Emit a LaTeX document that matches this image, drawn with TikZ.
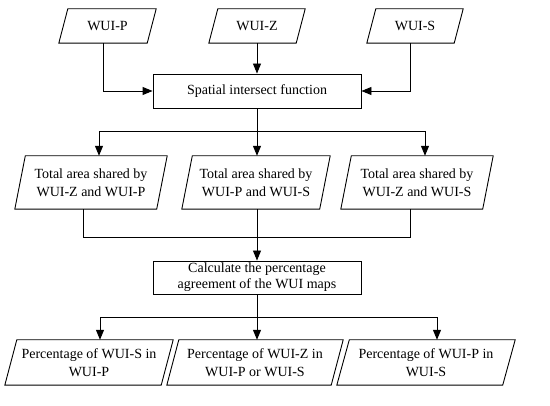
\documentclass[tikz,border=0pt]{standalone}
\usepackage{fontspec}
\setmainfont{Liberation Serif}
\usetikzlibrary{arrows.meta,calc}
\tikzset{
  base/.style={inner sep=0pt, align=center, font=\fontsize{14}{18}\selectfont},
  iobox/.style={base, rectangle},
  proc/.style={base, rectangle, draw, line width=0.9pt},
  outline/.style={line width=0.9pt, line join=miter},
  conn/.style={line width=0.9pt},
  arr/.style={conn, -{Triangle[length=10pt,width=8pt]}}
}
\newcommand{\drawpara}[2]{\draw[outline] ([xshift=#2]#1.north west) -- (#1.north east) -- ([xshift=-#2]#1.south east) -- (#1.south west) -- cycle;}
\begin{document}
\begin{tikzpicture}[x=1pt,y=-1pt]
\useasboundingbox (0,0) rectangle (550,406);
\node[iobox, minimum width=97pt, minimum height=34pt] (P) at (107.5,26) {WUI-P};
\node[iobox, minimum width=96pt, minimum height=34pt] (Z) at (257,26) {WUI-Z};
\node[iobox, minimum width=96pt, minimum height=34pt] (S) at (415,26) {WUI-S};
\drawpara{P}{9pt}
\drawpara{Z}{9pt}
\drawpara{S}{9pt}
\node[proc, minimum width=208pt, minimum height=34pt] (F) at (257,91) {Spatial intersect function};
\node[iobox, minimum width=152pt, minimum height=53pt] (A1) at (91,182.5) {Total area shared by\\WUI-Z and WUI-P};
\node[iobox, minimum width=148pt, minimum height=53pt] (A2) at (256,182.5) {Total area shared by\\WUI-P and WUI-S};
\node[iobox, minimum width=152pt, minimum height=53pt] (A3) at (417,182.5) {Total area shared by\\WUI-Z and WUI-S};
\drawpara{A1}{10.5pt}
\drawpara{A2}{10.5pt}
\drawpara{A3}{10.5pt}
\node[proc, minimum width=208pt, minimum height=33pt, font=\fontsize{14}{16}\selectfont] (C) at (257,277.5) {Calculate the percentage\\agreement of the WUI maps};
\node[iobox, minimum width=168pt, minimum height=45pt] (B1) at (89,362.5) {Percentage of WUI-S in\\WUI-P};
\node[iobox, minimum width=176pt, minimum height=45pt] (B2) at (255,362.5) {Percentage of WUI-Z in\\WUI-P or WUI-S};
\node[iobox, minimum width=178pt, minimum height=45pt] (B3) at (426,362.5) {Percentage of WUI-P in\\WUI-S};
\drawpara{B1}{12pt}
\drawpara{B2}{12pt}
\drawpara{B3}{12.5pt}
\coordinate (j1) at (257,131);
\coordinate (j2) at (257,237);
\coordinate (j3) at (257,317);
% top inputs
\draw[arr] ([xshift=-4.5pt]P.south) |- (F.west);
\draw[arr] (Z.south) -- (F.north);
\draw[arr] ([xshift=-5pt]S.south) |- (F.east);
% split 1
\draw[conn] (F.south) -- (j1);
\draw[arr] (j1) -| ([xshift=8pt]A1.north);
\draw[arr] (j1) -- (j1 |- A2.north);
\draw[arr] (j1) -| ([xshift=8pt]A3.north);
% merge
\draw[conn] ([xshift=-8pt]A1.south) |- (j2);
\draw[conn] ([xshift=-7pt]A3.south) |- (j2);
\draw[arr] (j2 |- A2.south) -- (C.north);
% split 2
\draw[conn] (C.south) -- (j3);
\draw[arr] (j3) -| ([xshift=11pt]B1.north);
\draw[arr] (j3) -- (j3 |- B2.north);
\draw[arr] (j3) -| ([xshift=11pt]B3.north);
\end{tikzpicture}
\end{document}
